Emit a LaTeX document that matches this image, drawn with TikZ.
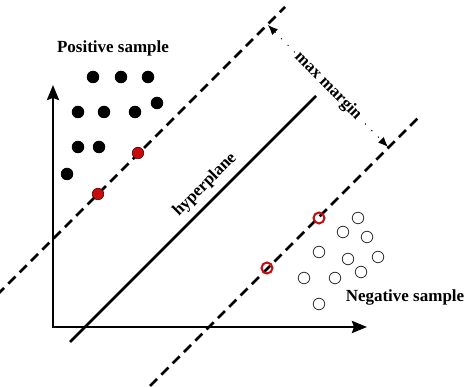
\documentclass[tikz,border=0pt]{standalone}
\usepackage{fontspec}
\setmainfont{Liberation Serif}
\usetikzlibrary{arrows.meta}

\newcommand\dotsize{12.5pt}
\newcommand\labelfont{\fontsize{17}{20}\selectfont\bfseries}
\definecolor{svred}{RGB}{200,10,10}

\tikzset{
  possample/.style={circle,fill=black,inner sep=0pt,minimum size=\dotsize},
  negsample/.style={circle,draw=black!80,line width=0.8pt,inner sep=0pt,minimum size=11.5pt},
  possv/.style={circle,fill=svred,draw=black!70!red,line width=0.6pt,inner sep=0pt,minimum size=11.5pt},
  negsv/.style={circle,draw=svred,line width=2pt,inner sep=0pt,minimum size=11pt},
  marginline/.style={line width=2.8pt,dash pattern=on 10pt off 6pt},
  axisline/.style={line width=2.8pt,{Stealth[length=15pt,width=12pt,inset=2pt]}-{Stealth[length=15pt,width=12pt,inset=2pt]}},
  samplelabel/.style={font=\labelfont}
}

\begin{document}
\begin{tikzpicture}[x=1pt,y=1pt]
    \useasboundingbox (-53,-60) rectangle (421,327);

    % axes
    \coordinate (origin) at (0,0);
    \coordinate (yend) at (0,242);
    \coordinate (xend) at (314,0);
    \draw[axisline,line join=miter] (yend) -- (origin) -- (xend);

    % separating lines
    \coordinate (hplow) at (17,-15);
    \coordinate (hphigh) at (263,231);
    \coordinate (uplow) at (-56,32);
    \coordinate (uphigh) at (232,320);
    \coordinate (lolow) at (97,-59);
    \coordinate (lohigh) at (365,209);
    \draw[line width=2.8pt] (hplow) -- (hphigh);
    \draw[marginline] (uplow) -- (uphigh);
    \draw[marginline] (lolow) -- (lohigh);

    \node[font=\labelfont,rotate=45] (hplabel) at (152,142) {hyperplane};

    % max margin
    \coordinate (mtop) at (215,302);
    \coordinate (mbot) at (335,180);
    \draw[line width=0.9pt,dash pattern=on 1.2pt off 8pt,{Latex[length=10pt,width=8pt]}-{Latex[length=10pt,width=8pt]}] (mtop) -- node[font=\labelfont,sloped,fill=white,inner sep=1pt] (mlabel) {max margin} (mbot);

    % positive samples
    \node[samplelabel] (poslabel) at (60,279) {Positive sample};
    \node[possample] (p1) at (40,250) {};
    \node[possample] (p2) at (68,250) {};
    \node[possample] (p3) at (95,250) {};
    \node[possample] (p4) at (25,215) {};
    \node[possample] (p5) at (51,215) {};
    \node[possample] (p6) at (82,215) {};
    \node[possample] (p7) at (104,224) {};
    \node[possample] (p8) at (25,180) {};
    \node[possample] (p9) at (46,180) {};
    \node[possample] (p10) at (14,153) {};
    \node[possv] (psv1) at (85,174) {};
    \node[possv] (psv2) at (45,133) {};

    % negative samples
    \node[samplelabel] (neglabel) at (352,30) {Negative sample};
    \node[negsample] (n1) at (305,109) {};
    \node[negsample] (n2) at (290,95) {};
    \node[negsample] (n3) at (314,90) {};
    \node[negsample] (n4) at (266,75) {};
    \node[negsample] (n5) at (295,68) {};
    \node[negsample] (n6) at (325,70) {};
    \node[negsample] (n7) at (251,49) {};
    \node[negsample] (n8) at (282,49) {};
    \node[negsample] (n9) at (308,55) {};
    \node[negsample] (n10) at (266,23) {};
    \node[negsv] (nsv1) at (266,109) {};
    \node[negsv] (nsv2) at (214,59) {};

  \end{tikzpicture}
\end{document}
